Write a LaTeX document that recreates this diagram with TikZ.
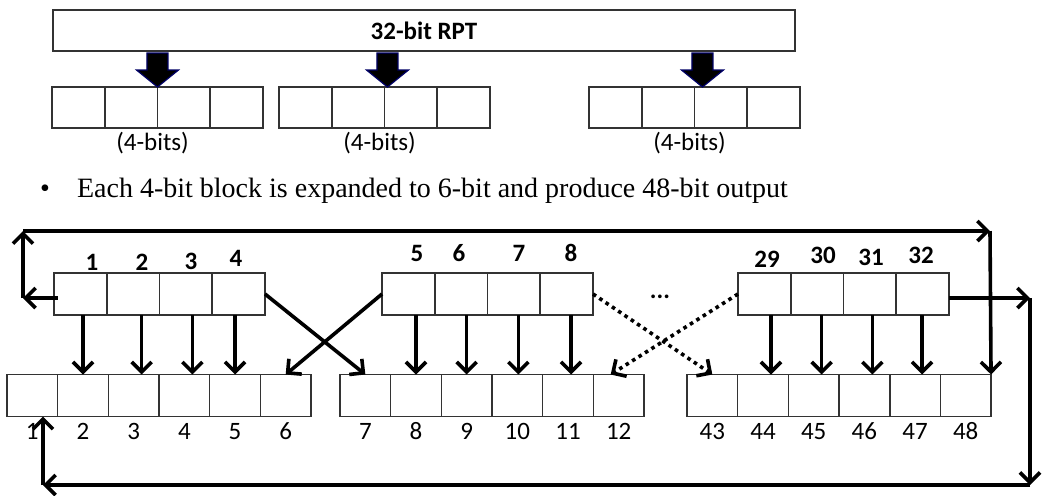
\documentclass[tikz,border=0pt]{standalone}
\usepackage{fontspec}
\setmainfont{Liberation Serif}
\newfontfamily\calibri{Carlito}
\usetikzlibrary{arrows.meta,calc}

\tikzset{
  cell/.style={draw=black!80, line width=0.8pt, inner sep=0pt, outer sep=0pt, minimum width=26.4pt, minimum height=21pt},
  outcell/.style={cell, minimum width=25.35pt},
  innum/.style={font=\calibri\bfseries\fontsize{12.5}{15}\selectfont},
  outnum/.style={font=\calibri\fontsize{12.5}{15}\selectfont},
  arr/.style={line width=1.8pt, -{Straight Barb[length=5pt,width=10pt]}},
  dotarr/.style={arr, dash pattern=on 1.8pt off 2pt},
  bigarrow/.style={fill=black, draw=blue!40!black, line width=0.6pt}
}

\begin{document}
\begin{tikzpicture}[x=0.5pt,y=-0.5pt]
\useasboundingbox (0,0) rectangle (1061,495);
\node[cell, minimum width=371pt, minimum height=20.5pt, innum] (RPT) at (424,30.5) {32-bit RPT};
\foreach \b/\x in {1/52,2/279,3/589} {
  \foreach \i in {1,...,4}
    \node[cell, minimum height=20.5pt] (T\b-\i) at ({\x+(\i-0.5)*52.75},107.5) {};
  \node[outnum] at ($(T\b-2.south east)+(-5,15)$) {(4-bits)};
}
\foreach \b/\dx in {1/0,2/3,3/8}
  \filldraw[bigarrow] ($(T\b-3.north west)+(\dx,0)$) -- ++(-21,-17) -- ++(10.5,0) -- ++(0,-17) -- ++(21,0) -- ++(0,17) -- ++(10.5,0) -- cycle;
\node[font=\fontsize{14}{16}\selectfont, anchor=base] (dot) at (45,197) {\textbullet};
\node[font=\fontsize{14}{16}\selectfont, anchor=base west] (note) at (70,197) {Each 4-bit block is expanded to 6-bit and produce 48-bit output};
% input blocks and expanded blocks
\foreach \n/\x in {A/54,B/382,C/738}
  \foreach \i in {1,...,4}
    \node[cell] (\n\i) at ({\x+(\i-0.5)*52.75},294) {};
\foreach \n/\x/\first in {D/7/0,E/340/6,F/687/42}
  \foreach \i in {1,...,6} {
    \pgfmathtruncatemacro\num{\first+\i}
    \node[outcell] (\n\i) at ({\x+(\i-0.5)*50.67},395.5) {};
    \node[outnum] at ($(\n\i.south)+(0,15)$) {\num};
  }
\foreach \x/\y/\t in {92/262/1,142/262/2,191/261/3,236/258/4,417/253/5,459/253/6,519/253/7,571/253/8,767/259/29,823/255/30,871/257/31,921/255/32}
  \node[innum] at (\x,\y) {\t};
\node[innum] (dots) at (660,297) {...};
\foreach \s/\o/\k/\dx in {A/D/2/0,A/D/3/8,A/D/4/8,A/D/5/0,B/E/2/0,B/E/3/0,B/E/4/1,B/E/5/3,C/F/2/8,C/F/3/8,C/F/4/8,C/F/5/7}
  \draw[arr] ($(\o\k.north |- \s1.south)+(\dx,0)$) -- ($(\o\k.north)+(\dx,0)$);
\draw[arr] (A4.east) -- (E1.north);
\draw[arr] (B1.west) -- (D6.north);
\draw[dotarr] (B4.east) -- (F1.north);
\draw[dotarr] (C1.west) -- ($(E6.north)+(-8,0)$);
\coordinate (L1) at (23,298);
\coordinate (L2) at (23,231);
\coordinate (R1) at (990,231);
\coordinate (R2) at (1030,298);
\coordinate (R3) at (1030,485);
\coordinate (L3) at (43,485);
\draw[arr] ($(A1.west)+(4,4)$) -- (L1);
\draw[arr] (L1) -- (L2);
\draw[arr] (L2) -- (R1);
\draw[arr] (R1) -- (F6.north east);
\draw[arr] ($(C4.east)+(0,4)$) -- (R2);
\draw[arr] (R2) -- (R3);
\draw[arr] (R3) -- (L3);
\draw[arr] (L3) -- (L3 |- D1.south);
\end{tikzpicture}
\end{document}
